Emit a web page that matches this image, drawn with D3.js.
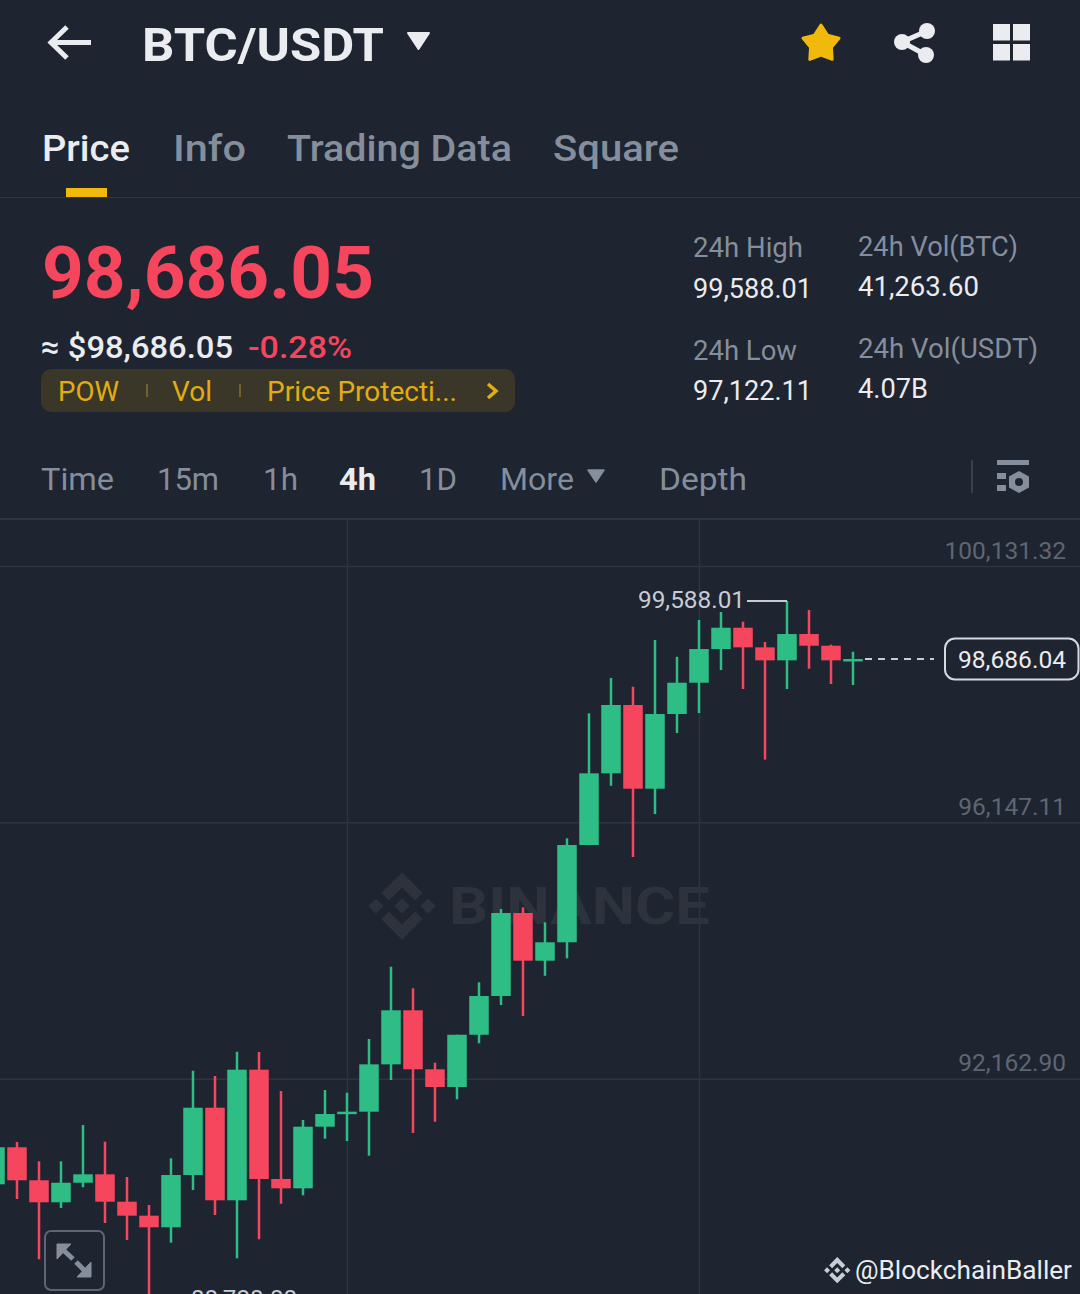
<!DOCTYPE html>
<html>
<head>
<meta charset="utf-8">
<title>BTC/USDT</title>
<script src="https://cdn.jsdelivr.net/npm/d3@7"></script>
<style>
    html, body { margin: 0; padding: 0; background: #1e2430; overflow: hidden; }
    svg { display: block; }
    text { font-family: Roboto, "Noto Sans", sans-serif; }
</style>
</head>
<body>
<div id="chart"></div>
<script>
// candle values, one per 4h bar
const candleOpen = [90522, 91097, 90584, 90242, 90546, 90677, 90251, 90034, 89853, 90666,
    91712, 90273, 92303, 90604, 90459, 91417, 91614, 91650, 92386, 93226,
    92309, 92034, 92846, 93448, 94738, 93997, 94283, 95795, 96909, 97971,
    96670, 97831, 98317, 98841, 99172, 98867, 98665, 99074, 98892, 98665];
const candleHigh = [91150, 91179, 90879, 90879, 91443, 91184, 90635, 90200, 90925, 92287,
    92205, 92582, 92578, 91971, 91521, 91987, 91945, 92780, 93903, 93568,
    92411, 92846, 93661, 94800, 94826, 94593, 95899, 97842, 98390, 98255,
    98981, 98721, 99292, 99416, 99265, 98950, 99588.01, 99447, 98908, 98799];
const candleLow = [90430, 90293, 89356, 90153, 90475, 89920, 89656, 88728.88, 89614, 90433,
    90044, 89371, 89667, 90220, 90350, 91230, 91194, 90966, 92142, 91319,
    91494, 91842, 92713, 93308, 93137, 93763, 94034, 95795, 96716, 95608,
    96277, 97535, 97846, 98515, 98219, 97122.11, 98219, 98535, 98297, 98282];
const candleClose = [91097, 90584, 90242, 90546, 90677, 90251, 90034, 89853, 90666, 91712,
    90273, 92303, 90604, 90459, 91417, 91614, 91650, 92386, 93226, 92309,
    92034, 92846, 93448, 94738, 93997, 94283, 95795, 96909, 97971, 96670,
    97831, 98317, 98841, 99172, 98867, 98665, 99074, 98892, 98665, 98686.04];

const priceTicks = [100131.32, 96147.11, 92162.90];
const timeGridBars = [16, 32];
const highValue = 99588.01;
const highBar = 36;
const lowValue = 88728.88;
const lowBar = 7;
const lastPrice = 98686.04;

const tabs = ["Price", "Info", "Trading Data", "Square"];
const intervals = ["Time", "15m", "1h", "4h", "1D", "More", "Depth"];
const pillTags = ["POW", "Vol", "Price Protecti..."];

const width = 1080, height = 1294;
const bg = "#1e2430", white = "#eaecef", grey = "#848e9c", line = "#2f3540";
const green = "#2ebd85", red = "#f6465d", gold = "#f0b90b", pillGold = "#e2ad12";

const svg = d3.select("#chart").append("svg")
    .attr("width", width)
    .attr("height", height);

svg.append("rect").attr("width", width).attr("height", height).attr("fill", bg);

// text with a fixed width so it sits where the original does
function label(str, x, y, size, color, textWidth, weight) {
    const t = svg.append("text")
        .attr("x", x - 1)
        .attr("y", y)
        .attr("font-size", size)
        .attr("fill", color)
        .attr("font-weight", weight || 400)
        .text(str);
    if (textWidth) {
        t.attr("textLength", textWidth + 1).attr("lengthAdjust", "spacingAndGlyphs");
    }
    return t;
}

const logoPath = "M38.7 53L63 28.7 87.3 53l14.1-14.1L63 .5 24.6 38.9z" +
    "M.5 63l14.1-14.1L28.7 63 14.6 77.1z" +
    "M38.7 73L63 97.3 87.3 73l14.1 14.1L63 125.5 24.6 87.1z" +
    "M97.3 63l14.1-14.1L125.5 63l-14.1 14.1z" +
    "M77.3 63L63 48.7 48.7 63 63 77.3z";

//
// header
svg.append("path")
    .attr("d", "M67 27L51 42.5L67 58M51 42.5H91")
    .attr("fill", "none").attr("stroke", white).attr("stroke-width", 5);
label("BTC/USDT", 143, 61, 46, white, 241, 700);
svg.append("path")
    .attr("d", "M408 33H429L418.5 49z")
    .attr("fill", white).attr("stroke", white).attr("stroke-width", 2).attr("stroke-linejoin", "round");

// star with a fat body, the symbol generator's one is too thin
const starPoints = d3.range(10).map(i => [i * Math.PI / 5, i % 2 == 0 ? 19 : 11]);
svg.append("path")
    .attr("d", d3.lineRadial().curve(d3.curveLinearClosed)(starPoints))
    .attr("transform", "translate(821,44)")
    .attr("fill", gold).attr("stroke", gold).attr("stroke-width", 3).attr("stroke-linejoin", "round");

svg.append("path")
    .attr("d", "M927 31L902 42L926 55")
    .attr("fill", "none").attr("stroke", white).attr("stroke-width", 5);
[[927, 31], [902, 42], [926, 55]].forEach(c => {
    svg.append("circle").attr("cx", c[0]).attr("cy", c[1]).attr("r", 8).attr("fill", white);
});

[[993, 24], [1013, 24], [993, 44], [1013, 44]].forEach(c => {
    svg.append("rect").attr("x", c[0]).attr("y", c[1]).attr("width", 17).attr("height", 16.5).attr("fill", white);
});

//
// tabs
const tabPos = [[43, 87], [174, 72], [288, 224], [554, 125]];
tabs.forEach((t, i) => {
    label(t, tabPos[i][0], 161, 37, i == 0 ? white : grey, tabPos[i][1], 500);
});
svg.append("rect").attr("x", 66).attr("y", 188).attr("width", 41).attr("height", 9).attr("fill", gold);
svg.append("rect").attr("x", 0).attr("y", 197).attr("width", width).attr("height", 1).attr("fill", line);

//
// price block
label("98,686.05", 43, 298, 72, red, 331, 700);
label("\u2248 $98,686.05", 42, 358, 32, white, 191, 500);
label("-0.28%", 249, 358, 32, red, 103, 500);

svg.append("rect").attr("x", 41).attr("y", 369).attr("width", 474).attr("height", 43)
    .attr("rx", 10).attr("fill", "#3a3729");
const pillPos = [[59, 60], [173, 39], [268, 189]];
pillTags.forEach((t, i) => {
    label(t, pillPos[i][0], 401, 28, pillGold, pillPos[i][1]);
});
[147, 240].forEach(x => {
    svg.append("rect").attr("x", x - 1).attr("y", 384).attr("width", 2).attr("height", 13).attr("fill", "#6f6330");
});
svg.append("path")
    .attr("d", "M488 384L496 391L488 398")
    .attr("fill", "none").attr("stroke", pillGold).attr("stroke-width", 3.5);

label("24h High", 694, 257, 28, grey, 109);
label("99,588.01", 694, 298, 28, white, 118);
label("24h Low", 694, 360, 28, grey, 103);
label("97,122.11", 694, 400, 28, white, 118);
label("24h Vol(BTC)", 859, 256, 28, grey, 159);
label("41,263.60", 859, 296, 28, white, 120);
label("24h Vol(USDT)", 859, 358, 28, grey, 179);
label("4.07B", 859, 398, 28, white, 69);

//
// interval bar
const intervalPos = [[42, 72], [158, 61], [264, 34], [340, 36], [420, 37], [501, 73], [660, 87]];
intervals.forEach((t, i) => {
    label(t, intervalPos[i][0], 490, 32, t == "4h" ? white : grey, intervalPos[i][1], t == "4h" ? 700 : 400);
});
svg.append("path").attr("d", "M588 470H604L596 482z")
    .attr("fill", grey).attr("stroke", grey).attr("stroke-width", 1.5).attr("stroke-linejoin", "round");

svg.append("rect").attr("x", 971).attr("y", 460).attr("width", 2).attr("height", 33).attr("fill", "#39404c");
svg.append("rect").attr("x", 997).attr("y", 460).attr("width", 32).attr("height", 5).attr("fill", grey);
svg.append("rect").attr("x", 997).attr("y", 473).attr("width", 9).attr("height", 6).attr("fill", grey);
svg.append("rect").attr("x", 997).attr("y", 485).attr("width", 9).attr("height", 6).attr("fill", grey);
svg.append("path")
    .attr("d", "M1019 471L1029 476.5V487.5L1019 493L1009 487.5V476.5z")
    .attr("fill", grey);
svg.append("circle").attr("cx", 1019).attr("cy", 482).attr("r", 4).attr("fill", bg);

svg.append("rect").attr("x", 0).attr("y", 518).attr("width", width).attr("height", 2).attr("fill", line);

//
// chart scales
const bars = d3.range(candleOpen.length);

const xScale = d3.scaleLinear()
    .domain([0, bars.length - 1])
    .range([-5, 853]);

const yScale = d3.scaleLinear()
    .domain([priceTicks[2], priceTicks[0]])
    .range([1078.7, 566]);

// vertical grid
const xAxis = d3.axisTop(xScale)
    .tickValues(timeGridBars)
    .tickSize(height - 520)
    .tickFormat("");
svg.append("g")
    .attr("class", "axis x")
    .attr("transform", "translate(0," + height + ")")
    .call(xAxis)
    .call(g => g.select(".domain").remove())
    .call(g => g.selectAll("line").attr("stroke", line).attr("stroke-width", 1.5));

// horizontal grid + price labels
const yAxis = d3.axisRight(yScale)
    .tickValues(priceTicks)
    .tickSize(width)
    .tickFormat(d3.format(",.2f"));
svg.append("g")
    .attr("class", "axis y")
    .call(yAxis)
    .call(g => g.select(".domain").remove())
    .call(g => g.selectAll("line").attr("stroke", line).attr("stroke-width", 1.5))
    .call(g => g.selectAll("text")
        .attr("x", 1066)
        .attr("y", -8)
        .attr("dy", 0)
        .attr("text-anchor", "end")
        .attr("font-size", 24.5)
        .attr("font-family", "Roboto, sans-serif")
        .attr("fill", "#5e6673"));

// watermark
svg.append("path")
    .attr("d", logoPath)
    .attr("transform", "translate(368,872) scale(0.54)")
    .attr("fill", "#2d323c");
label("BINANCE", 450, 924, 52, "#2d323c", 260, 700);

//
// candles
const isUp = (i) => candleClose[i] >= candleOpen[i];
const candleColor = (i) => isUp(i) ? green : red;

svg.append("g").attr("class", "wicks")
    .selectAll("rect")
    .data(bars)
    .join("rect")
    .attr("x", (i) => xScale(i) - 1.25)
    .attr("width", 2.5)
    .attr("y", (i) => yScale(candleHigh[i]))
    .attr("height", (i) => yScale(candleLow[i]) - yScale(candleHigh[i]))
    .attr("fill", candleColor);

svg.append("g").attr("class", "bodies")
    .selectAll("rect")
    .data(bars)
    .join("rect")
    .attr("x", (i) => xScale(i) - 9.75)
    .attr("width", 19.5)
    .attr("y", (i) => yScale(Math.max(candleOpen[i], candleClose[i])))
    .attr("height", (i) => Math.max(2.5, Math.abs(yScale(candleOpen[i]) - yScale(candleClose[i]))))
    .attr("fill", candleColor);

//
// high / low / last price marks
const priceFormat = d3.format(",.2f");
const markColor = "#c7ccd4";

svg.append("path")
    .attr("d", "M747 " + yScale(highValue) + "H" + xScale(highBar))
    .attr("fill", "none").attr("stroke", markColor).attr("stroke-width", 2);
label(priceFormat(highValue), 639, yScale(highValue) + 7, 24, markColor, 106);

label(priceFormat(lowValue), 192, 1307, 24, markColor, 105);

svg.append("line")
    .attr("x1", xScale(bars.length - 1) + 12)
    .attr("x2", 934)
    .attr("y1", yScale(lastPrice))
    .attr("y2", yScale(lastPrice))
    .attr("stroke", markColor)
    .attr("stroke-width", 2)
    .attr("stroke-dasharray", "7 6");

svg.append("rect")
    .attr("x", 945).attr("y", 638.5).attr("width", 133.5).attr("height", 41)
    .attr("rx", 10).attr("fill", bg).attr("stroke", "#d5d9df").attr("stroke-width", 2);
label(priceFormat(lastPrice), 959, 668, 24, white, 107);

//
// expand button
svg.append("rect")
    .attr("x", 45).attr("y", 1231).attr("width", 59).attr("height", 59)
    .attr("rx", 6).attr("fill", "none").attr("stroke", "#5e6673").attr("stroke-width", 2);
svg.append("path")
    .attr("d", "M57 1244H71L57 1259z M91 1277H77L91 1262z")
    .attr("fill", grey).attr("stroke", grey).attr("stroke-width", 1);
svg.append("path")
    .attr("d", "M60 1247L73 1259 M88 1274L76 1262")
    .attr("fill", "none").attr("stroke", grey).attr("stroke-width", 5);

//
// footer tag
svg.append("path")
    .attr("d", logoPath)
    .attr("transform", "translate(824,1257) scale(0.21)")
    .attr("fill", "#c9ced6");
label("@BlockchainBaller", 856, 1279, 26, white, 216);
</script>
</body>
</html>
